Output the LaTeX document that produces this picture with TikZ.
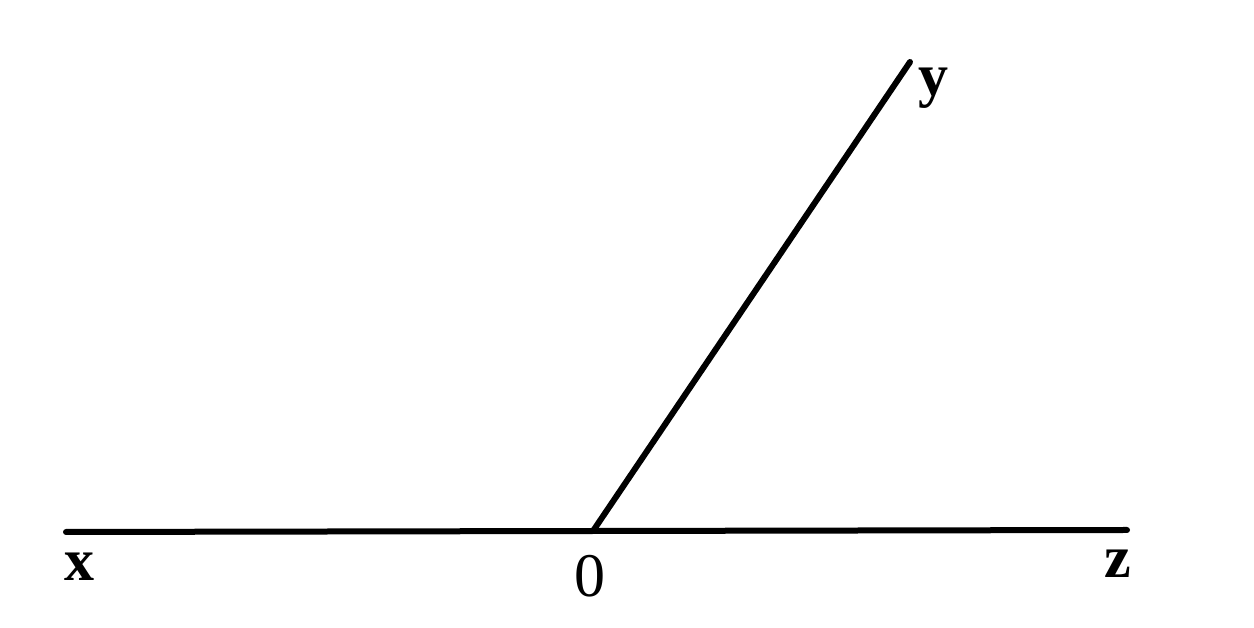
\documentclass[tikz,border=0pt]{standalone}
\usepackage{fontspec}
\setmainfont{Liberation Serif}
\begin{document}
\begin{tikzpicture}[x=0.25pt,y=-0.25pt,
  ray/.style={line width=1.5pt,line cap=round},
  lbl/.style={inner sep=0pt,font=\fontsize{15}{15}\selectfont\bfseries},
  num/.style={inner sep=0pt,font=\fontsize{15.5}{15.5}\selectfont}]
\useasboundingbox (0,0) rectangle (1254,628);
\coordinate (X) at (66,532);
\coordinate (Z) at (1127,530);
\coordinate (O) at (593,531);
\coordinate (Y) at (910,62);
\draw[ray] (X) -- (Z);
\draw[ray] (O) -- (Y);
\node[lbl] (lx) at (80,566.5) {x};
\node[lbl] (lz) at (1117.5,563.5) {z};
\node[lbl] (ly) at (933,88) {y};
\node[num] (lo) at (590,576) {0};
\end{tikzpicture}
\end{document}
